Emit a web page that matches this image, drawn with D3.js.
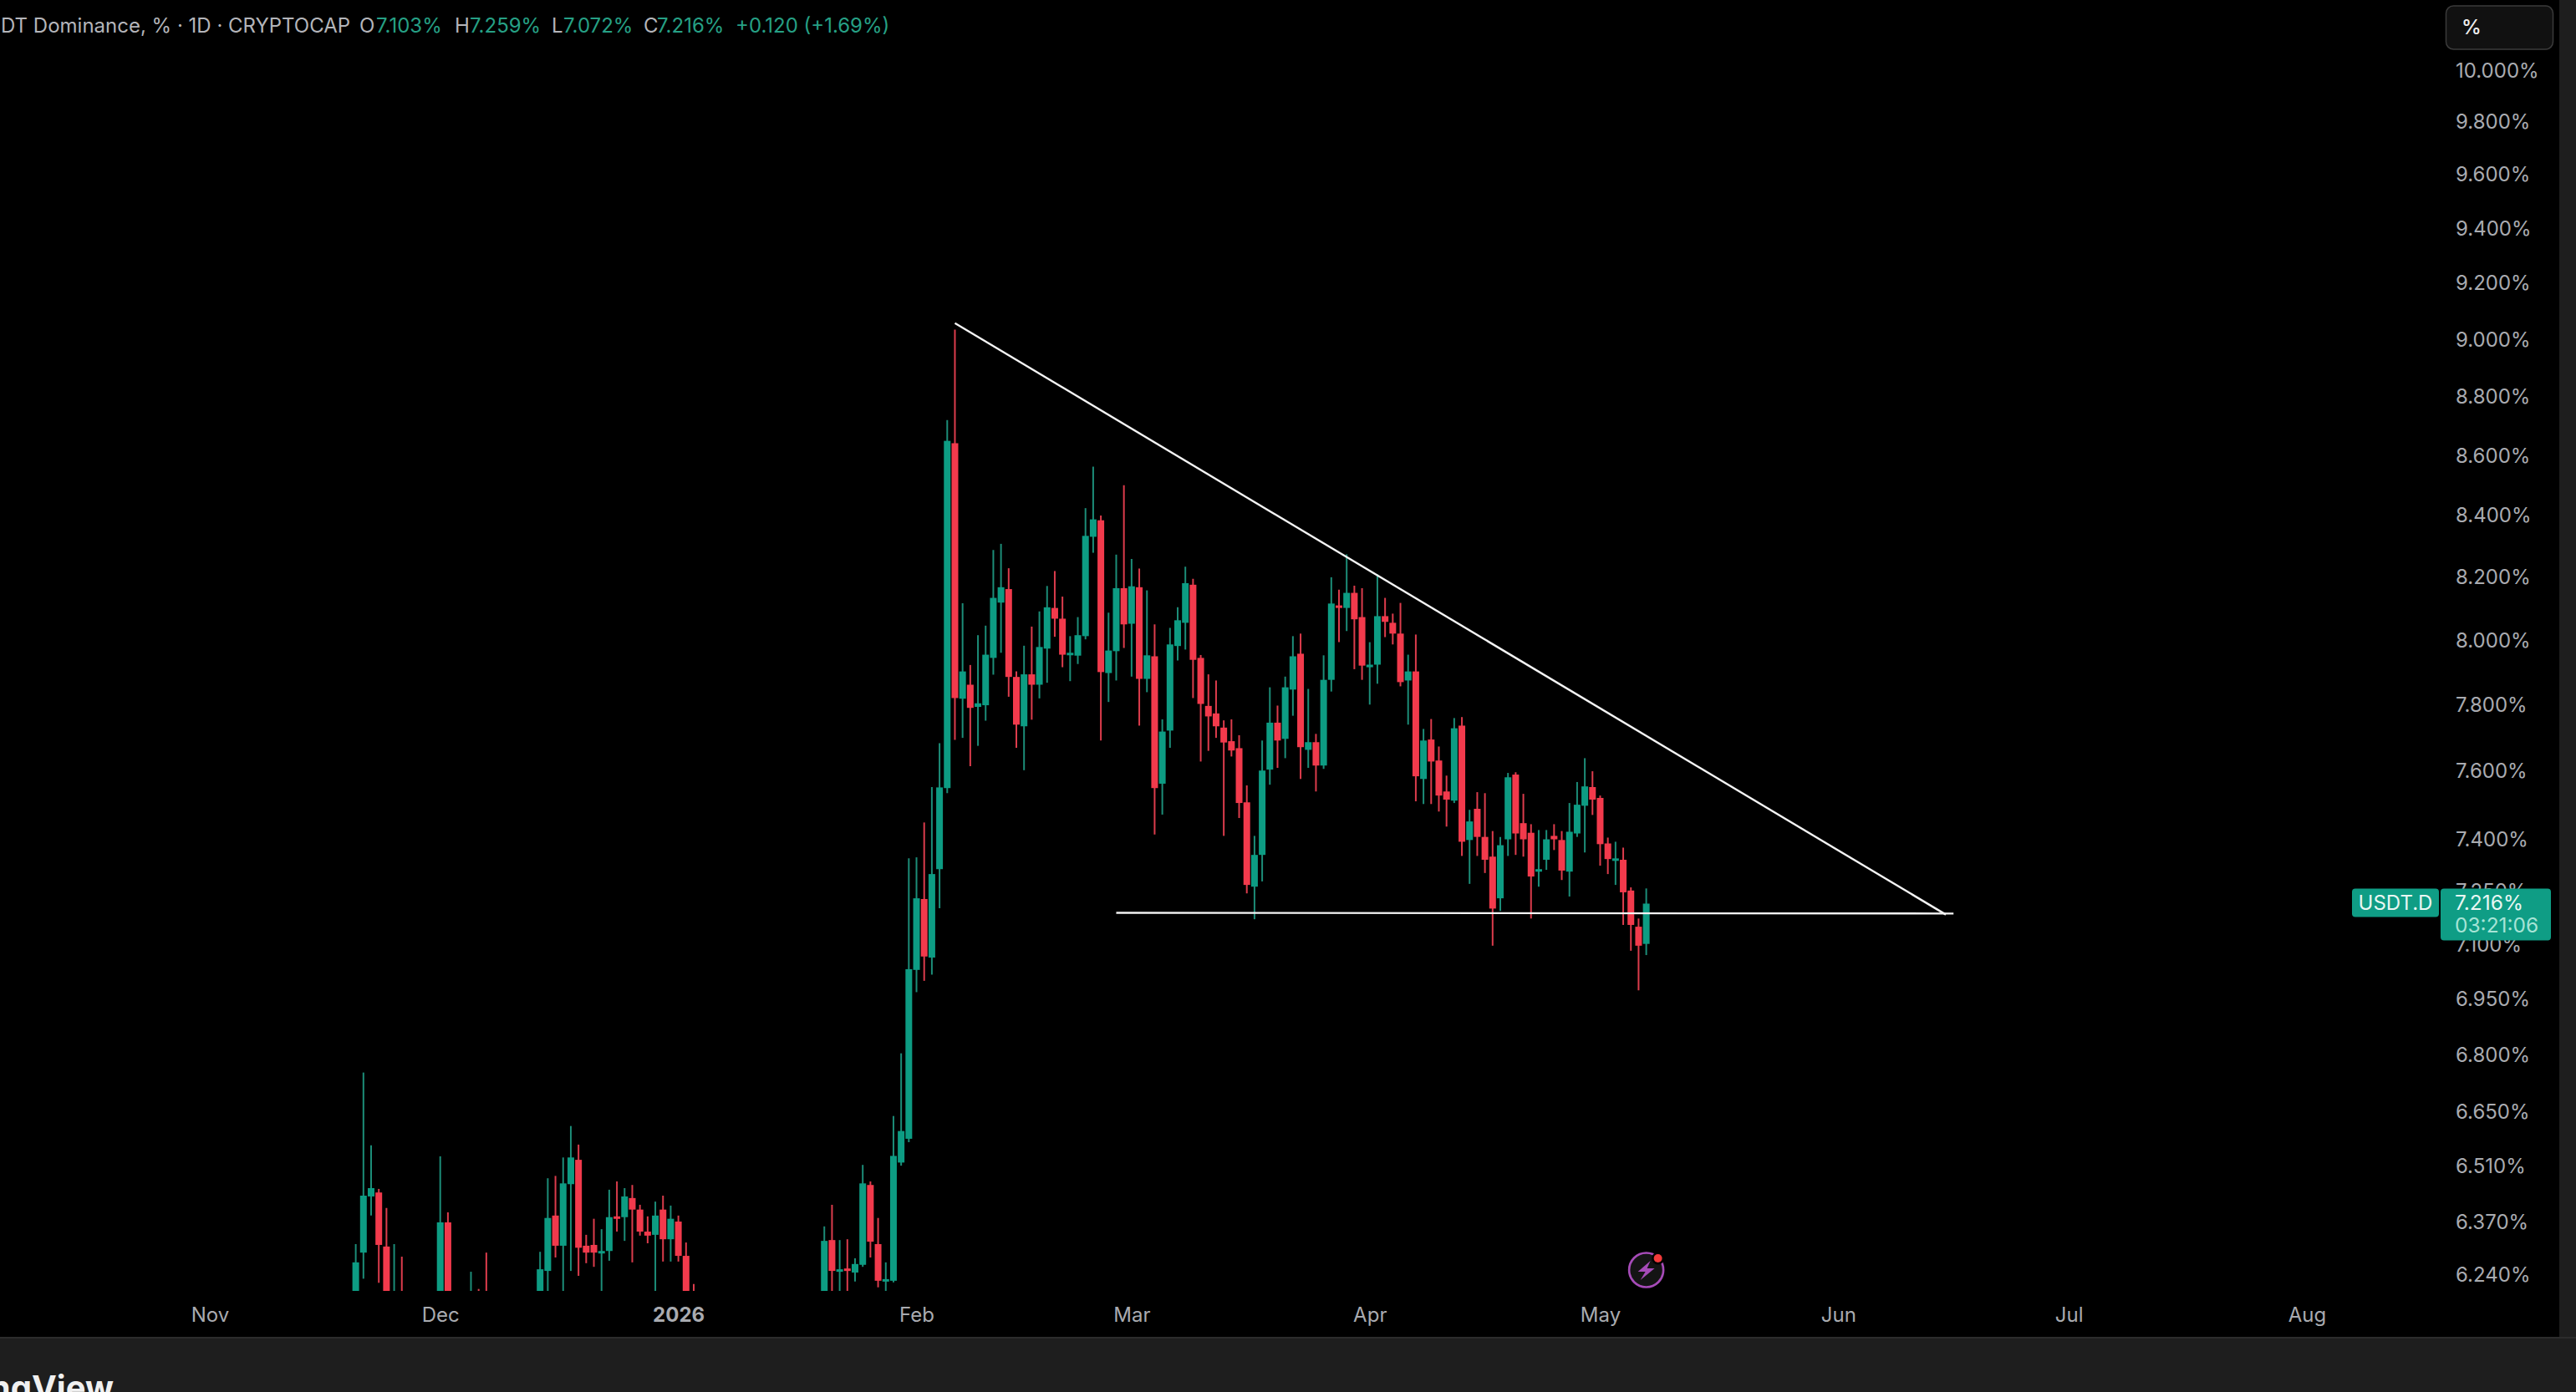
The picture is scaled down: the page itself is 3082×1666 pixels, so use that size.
<!DOCTYPE html>
<html>
<head>
<meta charset="utf-8">
<script src="https://cdn.jsdelivr.net/npm/d3@7"></script>
<style>
    html, body { margin: 0; padding: 0; background: #000; overflow: hidden; }
    svg { display: block; }
    text { font-family: Inter, "Noto Sans", sans-serif; }
</style>
</head>
<body>
<svg id="chart"></svg>
<script>
// daily candles, first entry is 2025-11-20, null = day is below the visible pane
var firstDay = new Date(Date.UTC(2025, 10, 20))

var opens = [
    // nov 20-30
    6.15, 6.294, 6.434, 6.444, 6.309, 6.12, 6.18, null, null, null, null,
    // dec
    6.15, 6.369, null, null, 6.12, 6.17, 6.18, null, null, null, null, null, null,
    6.15, 6.249, 6.386, 6.311, 6.465, 6.527, 6.311, 6.313, 6.294, 6.298, 6.384, 6.382, 6.430, 6.401, 6.346, 6.338, 6.401, 6.327,
    // jan
    6.371, 6.286, 6.17, null, null, null, null, null, null, null, null, null, null, null, null, null, null, null, null,
    6.15, 6.325, 6.247, 6.255, 6.245, 6.264, 6.463, 6.315, 6.223, 6.225, 6.520, 6.581,
    // feb
    7.031, 7.229, 7.065, 7.314, 7.550, 8.642, 7.819, 7.862, 7.794, 7.799, 7.945, 8.119, 8.162, 7.886,
    7.735, 7.894, 7.862, 7.974, 8.102, 8.068, 7.955, 7.952, 8.013, 8.331, 8.385, 7.898, 7.966, 8.165,
    // mar
    8.052, 8.168, 7.880, 7.950, 7.563, 7.722, 7.982, 8.055, 8.176, 7.945, 7.797, 7.774, 7.731, 7.690, 7.669, 7.508,
    7.264, 7.355, 7.605, 7.746, 7.697, 7.847, 7.958, 7.664, 7.687, 7.617, 7.877, 8.110, 8.102, 8.150, 8.073,
    // apr
    7.916, 7.924, 8.076, 8.055, 8.021, 7.875, 7.903, 7.577, 7.695, 7.632, 7.540, 7.513, 7.737, 7.398, 7.489,
    7.407, 7.350, 7.231, 7.400, 7.590, 7.447, 7.419, 7.310, 7.341, 7.410, 7.398, 7.307, 7.417, 7.498, 7.553,
    // may 1-7
    7.521, 7.388, 7.341, 7.341, 7.253, 7.151, 7.103
]

var highs = [
    6.315, 6.754, 6.564, 6.453, 6.405, 6.315, 6.284, null, null, null, null,
    6.536, 6.394, null, null, 6.247, 6.205, 6.294, null, null, null, null, null, null,
    6.296, 6.480, 6.486, 6.533, 6.614, 6.566, 6.338, 6.378, 6.352, 6.451, 6.472, 6.455, 6.463, 6.413, 6.384, 6.421, 6.436, 6.411,
    6.386, 6.319, 6.217, null, null, null, null, null, null, null, null, null, null, null, null, null, null, null, null,
    6.359, 6.413, 6.325, 6.327, 6.280, 6.514, 6.472, 6.380, 6.270, 6.640, 6.805, 7.345,
    7.348, 7.449, 7.553, 7.684, 8.721, 9.035, 8.117, 7.923, 8.016, 8.046, 8.288, 8.308, 8.229, 7.903,
    7.983, 8.043, 8.091, 8.172, 8.220, 8.138, 8.013, 8.073, 8.425, 8.563, 8.401, 8.087, 8.273, 8.501,
    8.259, 8.228, 8.158, 8.050, 7.756, 8.039, 8.104, 8.234, 8.195, 7.954, 7.894, 7.875, 7.753, 7.756, 7.708, 7.558,
    7.410, 7.692, 7.854, 7.798, 7.887, 8.013, 8.021, 7.849, 7.712, 7.953, 8.200, 8.160, 8.274, 8.173, 8.165,
    7.994, 8.209, 8.134, 8.084, 8.118, 7.955, 8.018, 7.727, 7.757, 7.674, 7.587, 7.760, 7.763, 7.486, 7.538,
    7.535, 7.424, 7.407, 7.595, 7.597, 7.533, 7.444, 7.427, 7.427, 7.444, 7.424, 7.506, 7.568, 7.639, 7.600,
    7.528, 7.405, 7.393, 7.376, 7.262, 7.174, 7.259
]

var lows = [
    6.15, 6.230, 6.386, 6.220, 6.15, 6.10, 6.10, null, null, null, null,
    6.12, 6.12, null, null, 6.10, 6.10, 6.10, null, null, null, null, null, null,
    6.12, 6.15, 6.282, 6.15, 6.249, 6.237, 6.268, 6.259, 6.15, 6.274, 6.346, 6.323, 6.270, 6.336, 6.317, 6.15, 6.272, 6.272,
    6.272, 6.12, 6.10, null, null, null, null, null, null, null, null, null, null, null, null, null, null, null, null,
    6.12, 6.15, 6.15, 6.15, 6.223, 6.259, 6.282, 6.209, 6.15, 6.221, 6.512, 6.572,
    6.970, 7.001, 7.018, 7.203, 7.535, 7.694, 7.700, 7.615, 7.676, 7.752, 7.893, 7.961, 7.825, 7.670,
    7.603, 7.755, 7.820, 7.868, 8.011, 7.916, 7.873, 7.926, 8.003, 8.279, 7.692, 7.809, 7.875, 7.976,
    7.887, 7.737, 7.839, 7.414, 7.472, 7.670, 7.937, 7.971, 7.821, 7.629, 7.661, 7.700, 7.410, 7.644, 7.462, 7.245,
    7.172, 7.279, 7.560, 7.610, 7.639, 7.767, 7.577, 7.610, 7.540, 7.607, 7.841, 7.994, 8.029, 7.910, 7.877,
    7.801, 7.865, 8.010, 7.987, 7.857, 7.740, 7.511, 7.503, 7.503, 7.481, 7.437, 7.506, 7.352, 7.272, 7.352,
    7.303, 7.098, 7.195, 7.352, 7.355, 7.350, 7.174, 7.264, 7.312, 7.369, 7.283, 7.236, 7.407, 7.362, 7.471,
    7.324, 7.300, 7.269, 7.156, 7.084, 6.975, 7.072
]

var closes = [
    6.270, 6.436, 6.455, 6.313, 6.15, 6.17, 6.12, null, null, null, null,
    6.369, 6.15, null, null, 6.17, 6.13, 6.13, null, null, null, null, null, null,
    6.253, 6.380, 6.311, 6.467, 6.533, 6.306, 6.294, 6.294, 6.298, 6.382, 6.380, 6.434, 6.401, 6.346, 6.336, 6.386, 6.327, 6.378,
    6.286, 6.15, 6.13, null, null, null, null, null, null, null, null, null, null, null, null, null, null, null, null,
    6.323, 6.249, 6.253, 6.251, 6.266, 6.467, 6.321, 6.225, 6.229, 6.537, 6.601, 7.033,
    7.231, 7.068, 7.300, 7.552, 8.650, 7.821, 7.903, 7.791, 7.805, 7.955, 8.134, 8.168, 7.886, 7.740,
    7.894, 7.862, 7.979, 8.104, 8.068, 7.955, 7.961, 8.016, 8.334, 8.388, 7.901, 7.968, 8.165, 8.050,
    8.171, 7.880, 7.953, 7.550, 7.719, 7.987, 8.063, 8.181, 7.939, 7.803, 7.765, 7.735, 7.686, 7.662, 7.506, 7.269,
    7.355, 7.602, 7.746, 7.692, 7.854, 7.950, 7.672, 7.687, 7.617, 7.877, 8.116, 8.102, 8.150, 8.066, 7.921,
    7.924, 8.076, 8.058, 8.021, 7.870, 7.903, 7.585, 7.692, 7.629, 7.528, 7.516, 7.729, 7.393, 7.452, 7.407,
    7.341, 7.202, 7.383, 7.582, 7.417, 7.400, 7.293, 7.314, 7.400, 7.400, 7.310, 7.422, 7.501, 7.555, 7.516,
    7.386, 7.343, 7.345, 7.248, 7.156, 7.098, 7.216
]

var priceTicks = [10, 9.8, 9.6, 9.4, 9.2, 9, 8.8, 8.6, 8.4, 8.2, 8, 7.8, 7.6, 7.4, 7.25, 7.1, 6.95, 6.8, 6.65, 6.51, 6.37, 6.24]
var timeTicks = ['2025-11-01', '2025-12-01', '2026-01-01', '2026-02-01', '2026-03-01', '2026-04-01', '2026-05-01', '2026-06-01', '2026-07-01', '2026-08-01']
var timeLabels = ['Nov', 'Dec', '2026', 'Feb', 'Mar', 'Apr', 'May', 'Jun', 'Jul', 'Aug']

// hand drawn trend lines: [date, price]
var resistance = [['2026-02-06', 9.058], ['2026-06-15', 7.185]]
var support = [['2026-02-27', 7.190], ['2026-06-16', 7.188]]

var headerTitle = 'DT Dominance, % · 1D · CRYPTOCAP'
var ohlcNames = ['O', 'H', 'L', 'C']
var ohlcValues = ['7.103%', '7.259%', '7.072%', '7.216%']
var changeText = '+0.120 (+1.69%)'
var lastPrice = 7.216
var countdown = '03:21:06'

var width = 3082, height = 1666
var green = '#0d9c83', red = '#f23a4c'
var greenWick = '#1c8d78', redWick = '#dc3c4c'
var paneBottom = 1545

var svg = d3.select('#chart').attr('width', width).attr('height', height)
svg.append('rect').attr('width', width).attr('height', height).attr('fill', '#000')

var x = d3.scaleUtc()
    .domain([new Date('2025-11-01'), new Date('2026-08-01')])
    .range([251, 2760])
var y = d3.scaleLog()
    .domain([10, 6.24])
    .range([84.5, 1525.5])

var candles = opens.map((o, i) => ({
    date: d3.utcDay.offset(firstDay, i),
    o: o, h: highs[i], l: lows[i], c: closes[i]
})).filter(d => d.o !== null)

svg.append('clipPath').attr('id', 'pane')
   .append('rect').attr('width', 3060).attr('height', paneBottom)

var pane = svg.append('g').attr('clip-path', 'url(#pane)')

// wicks
pane.append('g')
    .selectAll('line')
    .data(candles)
    .join('line')
    .attr('x1', d => x(d.date))
    .attr('x2', d => x(d.date))
    .attr('y1', d => y(d.h))
    .attr('y2', d => y(d.l))
    .attr('stroke', d => d.c >= d.o ? greenWick : redWick)
    .attr('stroke-width', 2)

// bodies
pane.append('g')
    .selectAll('rect')
    .data(candles)
    .join('rect')
    .attr('x', d => x(d.date) - 4)
    .attr('width', 8)
    .attr('y', d => y(Math.max(d.o, d.c)))
    .attr('height', d => Math.max(Math.abs(y(d.o) - y(d.c)), 3))
    .attr('fill', d => d.c >= d.o ? green : red)

// trend lines
var trendLine = d3.line()
    .x(d => x(new Date(d[0])))
    .y(d => y(d[1]))

pane.selectAll('.trend')
    .data([resistance, support])
    .join('path')
    .attr('class', 'trend')
    .attr('d', trendLine)
    .attr('fill', 'none')
    .attr('stroke', '#f4f4f4')
    .attr('stroke-width', 2.4)

// price axis
var yAxis = svg.append('g')
    .attr('transform', 'translate(2938,0)')
    .call(d3.axisRight(y).tickValues(priceTicks).tickSize(0).tickPadding(0)
        .tickFormat(d => d3.format('.3f')(d) + '%'))
yAxis.select('.domain').remove()
yAxis.selectAll('text')
    .attr('fill', '#a9abb0')
    .attr('font-size', 24)
    .style('font-family', 'Inter')

// time axis
var xAxis = svg.append('g')
    .attr('transform', 'translate(0,1574)')
    .call(d3.axisBottom(x).tickValues(timeTicks.map(d => new Date(d))).tickSize(0).tickPadding(0)
        .tickFormat((d, i) => timeLabels[i]))
xAxis.select('.domain').remove()
xAxis.selectAll('text')
    .attr('dy', '0.35em')
    .attr('fill', '#a9abb0')
    .attr('font-size', 24)
    .attr('font-weight', (d, i) => timeLabels[i] == '2026' ? 700 : 400)
    .style('font-family', 'Inter')

// last price tags
var tagY = y(lastPrice) - 18
svg.append('rect').attr('x', 2814).attr('y', tagY).attr('width', 104).attr('height', 34).attr('rx', 4).attr('fill', '#0f9d85')
svg.append('rect').attr('x', 2920).attr('y', tagY).attr('width', 132).attr('height', 62).attr('rx', 4).attr('fill', '#0f9d85')
svg.append('text').attr('x', 2866).attr('y', tagY + 26).attr('text-anchor', 'middle')
   .attr('fill', '#e8f7f3').attr('font-size', 24).text('USDT.D')
svg.append('text').attr('x', 2937).attr('y', tagY + 26)
   .attr('fill', '#e8f7f3').attr('font-size', 24.5).text(d3.format('.3f')(lastPrice) + '%')
svg.append('text').attr('x', 2937).attr('y', tagY + 53)
   .attr('fill', '#a6e4d6').attr('font-size', 24.5).text(countdown)

// header
var header = svg.append('g').attr('font-size', 24)
header.append('text').attr('x', 1).attr('y', 39).attr('fill', '#b4b5ba').text(headerTitle)
var namePos = [430, 544, 660, 770]
var valuePos = [450, 562, 674, 786]
ohlcNames.forEach((n, i) => {
    header.append('text').attr('x', namePos[i]).attr('y', 39).attr('fill', '#b4b5ba').text(n)
    header.append('text').attr('x', valuePos[i]).attr('y', 39).attr('fill', '#26a085').text(ohlcValues[i])
})
header.append('text').attr('x', 880).attr('y', 39).attr('fill', '#26a085').text(changeText)

// % button
svg.append('rect').attr('x', 2926.5).attr('y', 7).attr('width', 128).attr('height', 52).attr('rx', 9)
   .attr('fill', '#111').attr('stroke', '#3b3b3b').attr('stroke-width', 1.5)
svg.append('text').attr('x', 2945).attr('y', 41).attr('fill', '#eee').attr('font-size', 24).attr('font-weight', 500).text('%')

// earnings-style marker under the last bar
var marker = svg.append('g').attr('transform', `translate(${x(candles[candles.length - 1].date)},1520)`)
marker.append('circle').attr('r', 20.5).attr('fill', '#141414').attr('stroke', '#a64bb8').attr('stroke-width', 2.6)
marker.append('path').attr('d', 'M5 -11 L-10 2 L-1 2 L-7 12 L10 -2 L1 -2 Z').attr('fill', '#a64bb8')
marker.append('circle').attr('cx', 14).attr('cy', -14).attr('r', 7.5).attr('fill', '#000')
marker.append('circle').attr('cx', 14).attr('cy', -14).attr('r', 5).attr('fill', '#f23a3a')

// frame strips
svg.append('rect').attr('x', 3062).attr('width', 20).attr('height', height).attr('fill', '#1e1e1e')
svg.append('rect').attr('y', 1600).attr('width', width).attr('height', 66).attr('fill', '#1e1e1e')
svg.append('rect').attr('y', 1600).attr('width', width).attr('height', 2).attr('fill', '#2c2c2c')
svg.append('text').attr('x', 136).attr('y', 1675).attr('text-anchor', 'end')
   .attr('fill', '#f0f0f0').attr('font-size', 40).attr('font-weight', 700).text('ngView')
</script>
</body>
</html>
